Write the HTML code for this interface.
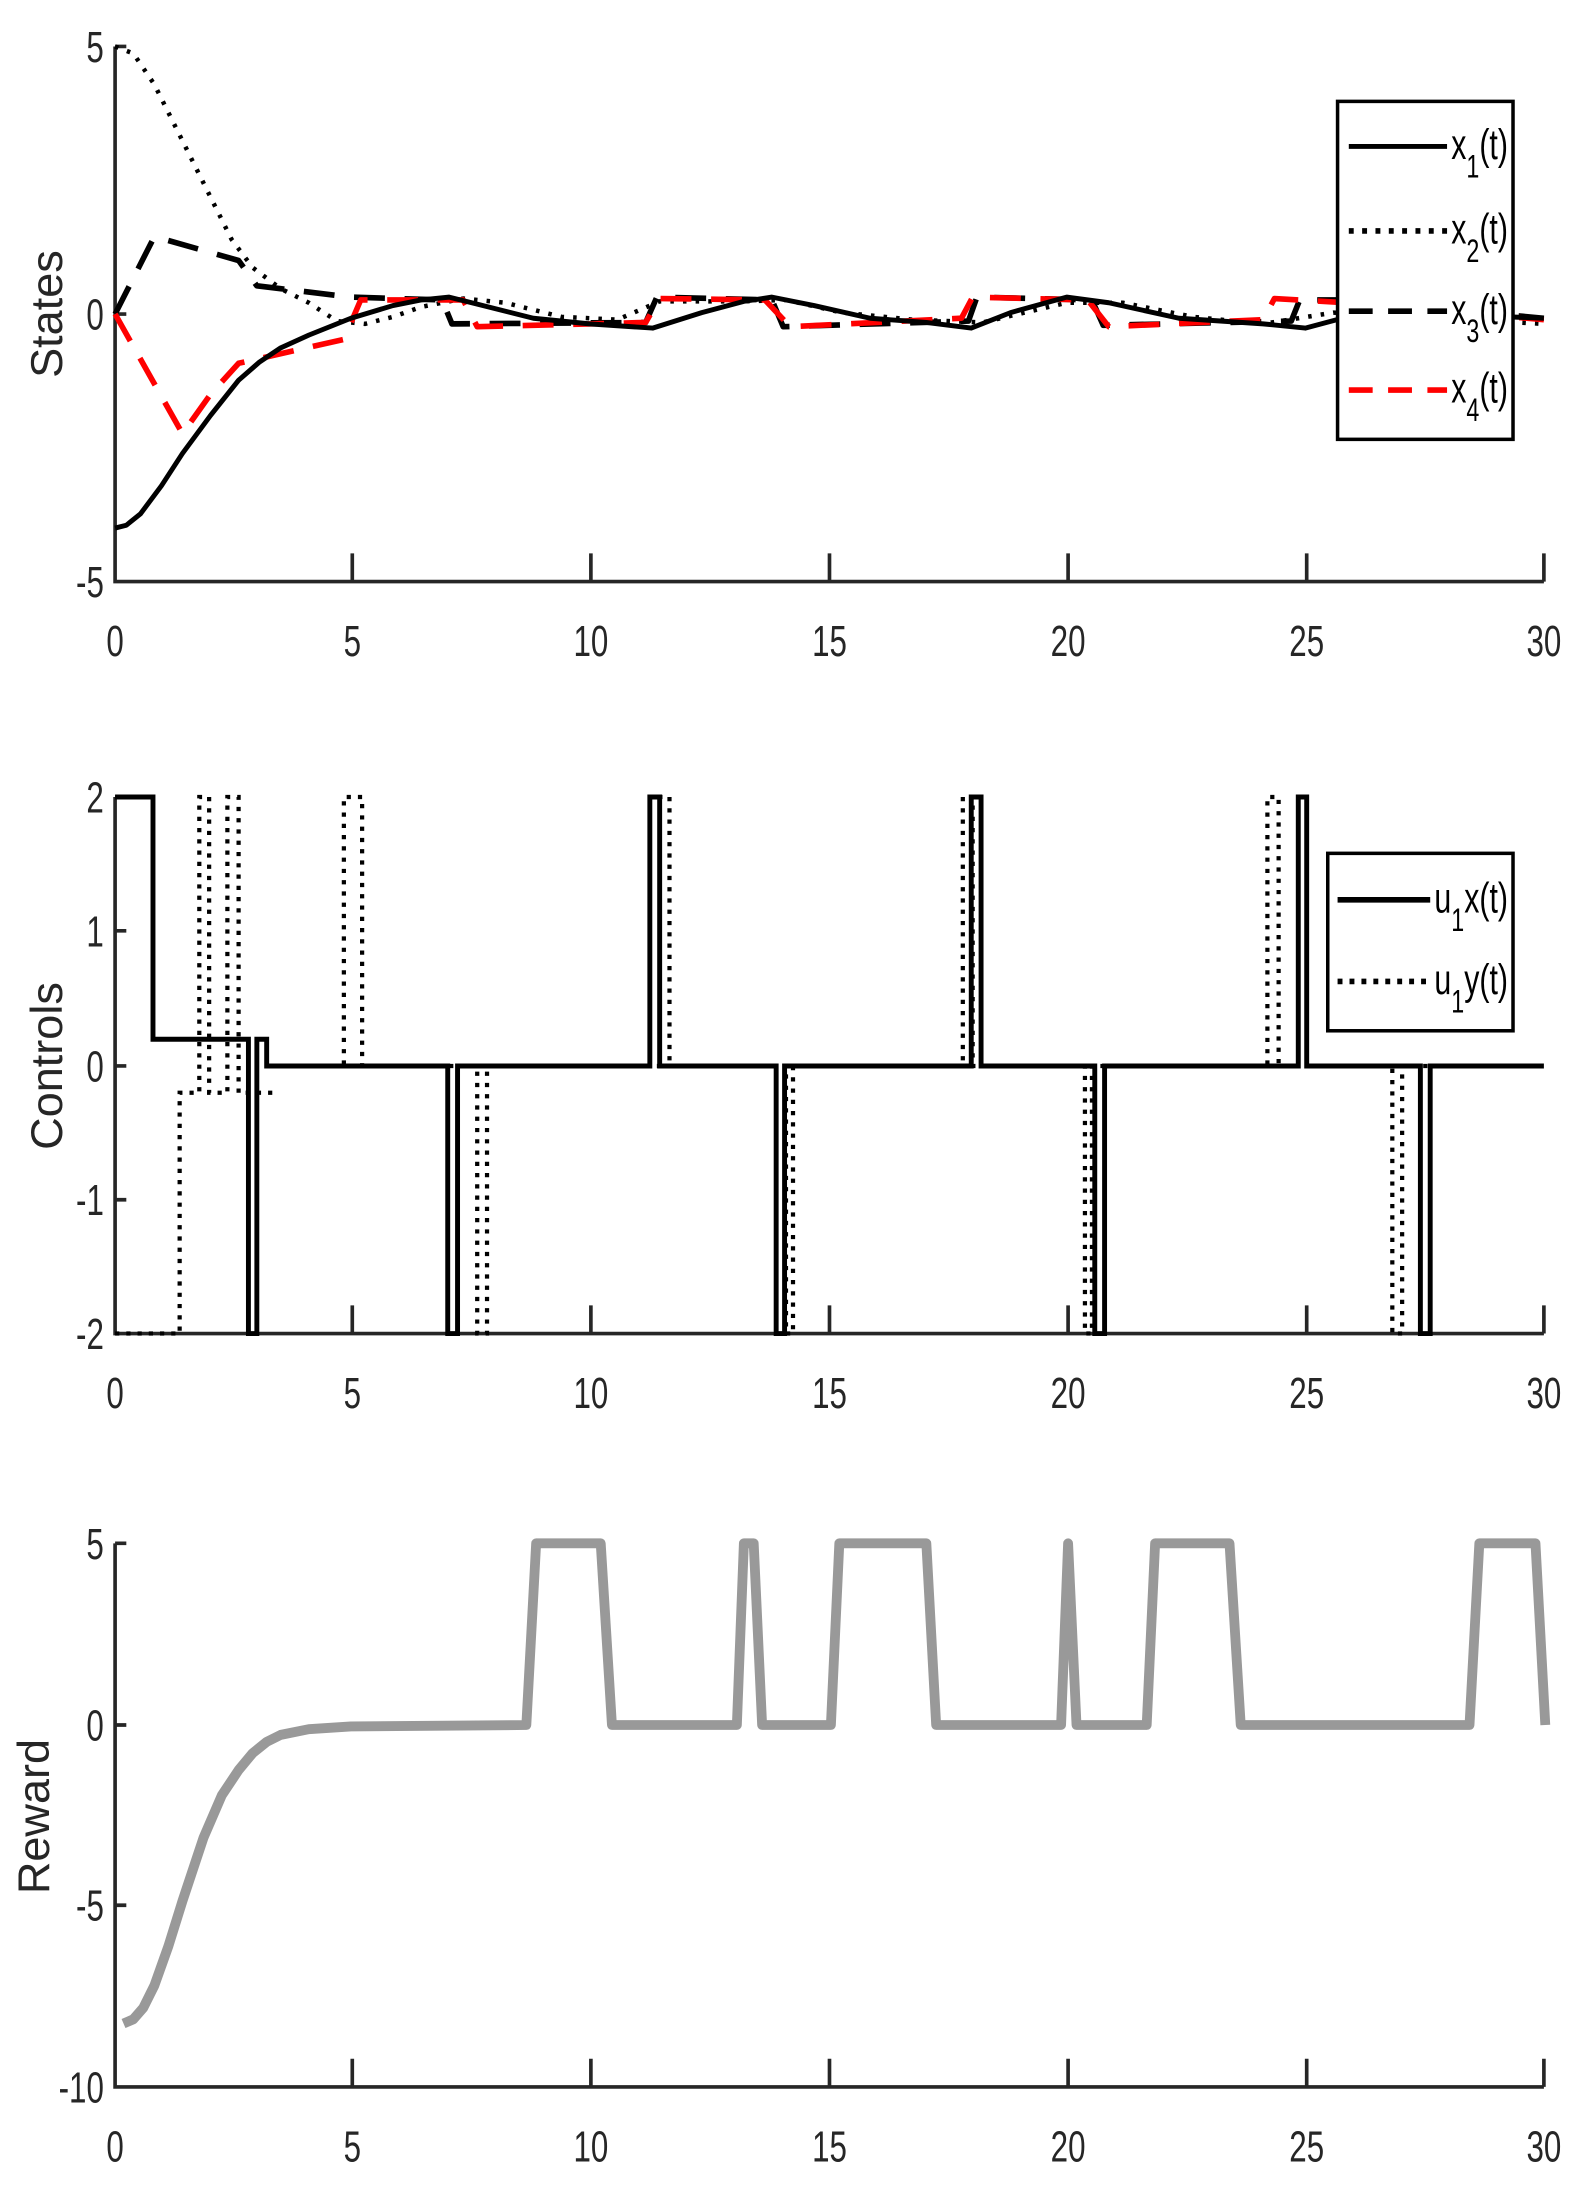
<!DOCTYPE html>
<html><head><meta charset="utf-8"><style>
html,body{margin:0;padding:0;background:#fff}
svg{display:block}
text{font-family:"Liberation Sans Narrow","Liberation Sans",sans-serif;fill:#262626}
</style></head><body>
<svg width="1586" height="2208" viewBox="0 0 1130 1568" preserveAspectRatio="none" xmlns="http://www.w3.org/2000/svg">
<g font-size="31" text-anchor="middle">
<!-- Plot 1 -->
<g stroke="#262626" stroke-width="2.6" fill="none">
<path d="M82,33 V413 H1100"/>
<path d="M251,413 v-20 M421,413 v-20 M591,413 v-20 M761,413 v-20 M931,413 v-20 M1100,413 v-20"/>
<path d="M82,33 h8 M82,223 h8"/>
</g>
<g>
<text transform="translate(82,466) scale(0.72,1)">0</text>
<text transform="translate(251,466) scale(0.72,1)">5</text>
<text transform="translate(421,466) scale(0.72,1)">10</text>
<text transform="translate(591,466) scale(0.72,1)">15</text>
<text transform="translate(761,466) scale(0.72,1)">20</text>
<text transform="translate(931,466) scale(0.72,1)">25</text>
<text transform="translate(1100,466) scale(0.72,1)">30</text>
<text text-anchor="end" transform="translate(74,44) scale(0.72,1)">5</text>
<text text-anchor="end" transform="translate(74,234) scale(0.72,1)">0</text>
<text text-anchor="end" transform="translate(74,424) scale(0.72,1)">-5</text>
<text font-size="32" font-family="Liberation Sans,sans-serif" transform="translate(44,223) rotate(-90)">States</text>
</g>
<g fill="none" stroke-linejoin="round">
<path stroke="#000" stroke-width="3.2" stroke-dasharray="2.5,6.5" d="M82,33 L95,38 L110,60 L130,100 L150,140 L165,170 L180,190 L200,205 L220,215 L240,228 L260,230 L280,225 L300,218 L330,212 L360,215 L400,225 L440,227 L470,214 L530,214 L560,213 L600,222 L650,227 L700,229 L760,215 L800,215 L850,225 L900,230 L950,222 L1100,230"/>
<path stroke="#000" stroke-width="4" stroke-dasharray="22,14" d="M82,223 L110,168 L170,185 L183,203 L200,205 L250,211 L315,213 L322,230 L460,229 L468,211 L550,213 L558,232 L690,228 L696,211 L778,213 L786,231 L920,228 L926,213 L960,213 L1100,226"/>
<path stroke="#f00" stroke-width="4" stroke-dasharray="22,14" d="M82,223 L130,308 L150,280 L170,258 L245,241 L257,213 L330,213 L340,232 L460,229 L470,212 L545,213 L563,232 L685,226 L693,211 L775,213 L790,232 L900,227 L908,212 L960,215 L1100,227"/>
<path stroke="#000" stroke-width="3.5" d="M82,375 L90,373 L100,365 L115,345 L130,322 L150,295 L170,270 L185,257 L200,247 L220,238 L250,226 L280,217 L300,213 L320,211 L340,216 L380,226 L420,230 L465,233 L500,222 L530,214 L550,211 L580,217 L620,226 L660,229 L692,233 L720,222 L760,211 L790,215 L840,226 L900,230 L930,233 L960,225 L1000,222 L1100,226"/>
</g>
<rect x="953" y="72" width="125" height="240" fill="#fff" stroke="#000" stroke-width="2.5"/>
<g stroke-width="3.5" fill="none">
<path stroke="#000" d="M961,104 h70"/>
<path stroke="#000" stroke-width="4" stroke-dasharray="3.5,6" d="M961,164 h70"/>
<path stroke="#000" stroke-width="4" stroke-dasharray="17,11" d="M961,221 h70"/>
<path stroke="#f00" stroke-width="4" stroke-dasharray="17,11" d="M961,277 h70"/>
</g>
<g font-size="30" text-anchor="start">
<text transform="translate(1034,113) scale(0.72,1)" style="fill:#000">x<tspan font-size="23" dy="13">1</tspan><tspan dy="-13">(t)</tspan></text>
<text transform="translate(1034,173) scale(0.72,1)" style="fill:#000">x<tspan font-size="23" dy="13">2</tspan><tspan dy="-13">(t)</tspan></text>
<text transform="translate(1034,230) scale(0.72,1)" style="fill:#000">x<tspan font-size="23" dy="13">3</tspan><tspan dy="-13">(t)</tspan></text>
<text transform="translate(1034,286) scale(0.72,1)" style="fill:#000">x<tspan font-size="23" dy="13">4</tspan><tspan dy="-13">(t)</tspan></text>
</g>

<!-- Plot 2 -->
<g stroke="#262626" stroke-width="2.6" fill="none">
<path d="M82,566 V947 H1100"/>
<path d="M251,947 v-20 M421,947 v-20 M591,947 v-20 M761,947 v-20 M931,947 v-20 M1100,947 v-20"/>
<path d="M82,566 h8 M82,661 h8 M82,757 h8 M82,852 h8"/>
</g>
<g>
<text transform="translate(82,1000) scale(0.72,1)">0</text>
<text transform="translate(251,1000) scale(0.72,1)">5</text>
<text transform="translate(421,1000) scale(0.72,1)">10</text>
<text transform="translate(591,1000) scale(0.72,1)">15</text>
<text transform="translate(761,1000) scale(0.72,1)">20</text>
<text transform="translate(931,1000) scale(0.72,1)">25</text>
<text transform="translate(1100,1000) scale(0.72,1)">30</text>
<text text-anchor="end" transform="translate(74,577) scale(0.72,1)">2</text>
<text text-anchor="end" transform="translate(74,672) scale(0.72,1)">1</text>
<text text-anchor="end" transform="translate(74,768) scale(0.72,1)">0</text>
<text text-anchor="end" transform="translate(74,863) scale(0.72,1)">-1</text>
<text text-anchor="end" transform="translate(74,958) scale(0.72,1)">-2</text>
<text font-size="32" font-family="Liberation Sans,sans-serif" transform="translate(44,757) rotate(-90)">Controls</text>
</g>
<g fill="none" stroke="#000">
<path stroke-width="3" stroke-dasharray="3,5" d="M82,947 H128 V776 H142 V566 H149 V776 H162 V566 H170 V776 H197 M190,757 H245 V566 H258 V757 H340 V947 H347 V757 H470 V566 H477 V757 H560 V947 H565 V757 H686 V566 H693 V757 H773 V947 H778 V757 H903 V566 H911 V757 H992 V947 H999 V757 H1100"/>
<path stroke-width="3.5" d="M82,566 H109 V738 H177 V947 H183 V738 H190 V757 H319 V947 H326 V757 H463 V566 H470 V757 H553 V947 H559 V757 H692 V566 H699 V757 H780 V947 H787 V757 H925 V566 H931 V757 H1012 V947 H1019 V757 H1100"/>
</g>
<rect x="946" y="606" width="132" height="126" fill="#fff" stroke="#000" stroke-width="2.5"/>
<path stroke="#000" stroke-width="4" d="M953,639 h66"/>
<path stroke="#000" stroke-width="4" stroke-dasharray="3.5,5" d="M953,697 h66"/>
<g font-size="30" text-anchor="start">
<text transform="translate(1022,648) scale(0.72,1)" style="fill:#000">u<tspan font-size="23" dy="13">1</tspan><tspan dy="-13">x(t)</tspan></text>
<text transform="translate(1022,706) scale(0.72,1)" style="fill:#000">u<tspan font-size="23" dy="13">1</tspan><tspan dy="-13">y(t)</tspan></text>
</g>

<!-- Plot 3 -->
<g stroke="#262626" stroke-width="2.6" fill="none">
<path d="M82,1096 V1482 H1100"/>
<path d="M251,1482 v-20 M421,1482 v-20 M591,1482 v-20 M761,1482 v-20 M931,1482 v-20 M1100,1482 v-20"/>
<path d="M82,1096 h8 M82,1225 h8 M82,1353 h8"/>
</g>
<g>
<text transform="translate(82,1535) scale(0.72,1)">0</text>
<text transform="translate(251,1535) scale(0.72,1)">5</text>
<text transform="translate(421,1535) scale(0.72,1)">10</text>
<text transform="translate(591,1535) scale(0.72,1)">15</text>
<text transform="translate(761,1535) scale(0.72,1)">20</text>
<text transform="translate(931,1535) scale(0.72,1)">25</text>
<text transform="translate(1100,1535) scale(0.72,1)">30</text>
<text text-anchor="end" transform="translate(74,1107) scale(0.72,1)">5</text>
<text text-anchor="end" transform="translate(74,1236) scale(0.72,1)">0</text>
<text text-anchor="end" transform="translate(74,1364) scale(0.72,1)">-5</text>
<text text-anchor="end" transform="translate(74,1493) scale(0.72,1)">-10</text>
<text font-size="32" font-family="Liberation Sans,sans-serif" transform="translate(35,1290) rotate(-90)">Reward</text>
</g>
<path fill="none" stroke="#999" stroke-width="7" stroke-linejoin="round" d="M88,1437 L95,1434 L102,1426 L110,1410 L120,1382 L130,1350 L145,1305 L158,1275 L170,1257 L180,1245 L190,1237 L200,1232 L220,1228 L250,1226 L375,1225 L382,1096 L428,1096 L436,1225 L525,1225 L530,1096 L537,1096 L543,1225 L592,1225 L598,1096 L660,1096 L667,1225 L756,1225 L761,1096 L767,1225 L817,1225 L823,1096 L876,1096 L884,1225 L1047,1225 L1054,1096 L1094,1096 L1101,1225"/>
</g>
</svg>
</body></html>
